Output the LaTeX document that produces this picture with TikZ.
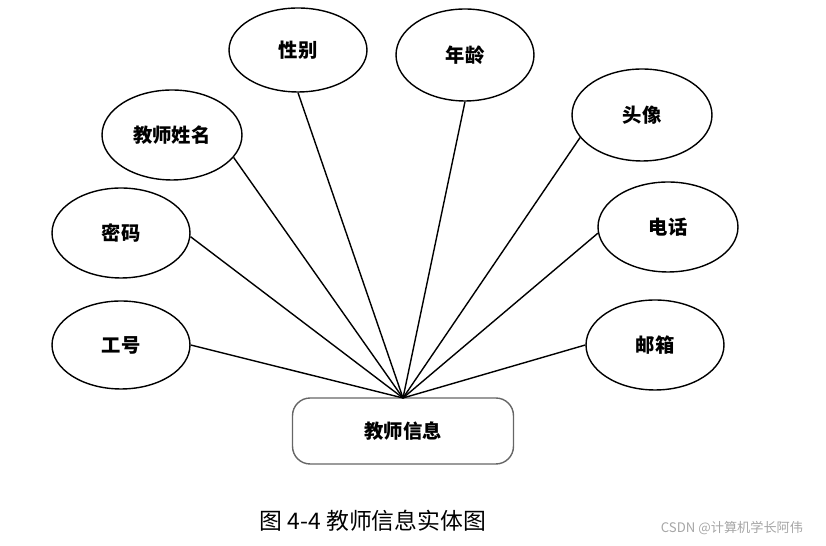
\documentclass[tikz,border=0pt]{standalone}
\usepackage{fontspec}
\setmainfont{Noto Sans CJK SC}
\usetikzlibrary{shapes.geometric}
\begin{document}
\begin{tikzpicture}[x=0.02cm,y=-0.02cm,
  attr/.style={ellipse,draw,line width=0.8pt,inner sep=0pt,font=\fontsize{11}{13}\selectfont\bfseries},
  ent/.style={draw=black!60,line width=0.8pt,rounded corners=10pt,minimum width=4.42cm,minimum height=1.32cm,font=\fontsize{11}{13}\selectfont\bfseries},
  conn/.style={line width=0.8pt}]
\useasboundingbox (0,0) rectangle (826,546);
\node[attr,minimum width=2.76cm,minimum height=1.68cm] (xb) at (298,50) {性别};
\node[attr,minimum width=2.76cm,minimum height=1.84cm] (nl) at (465,55) {年龄};
\node[attr,minimum width=2.80cm,minimum height=1.80cm] (xm) at (172,135) {教师姓名};
\node[attr,minimum width=2.80cm,minimum height=1.84cm] (tx) at (642,115) {头像};
\node[attr,minimum width=2.76cm,minimum height=1.80cm] (mm) at (121,233) {密码};
\node[attr,minimum width=2.80cm,minimum height=1.80cm] (dh) at (668,227) {电话};
\node[attr,minimum width=2.76cm,minimum height=1.76cm] (gh) at (121,345) {工号};
\node[attr,minimum width=2.76cm,minimum height=1.80cm] (yx) at (655,345) {邮箱};
\node[ent] (e) at (403,431) {教师信息};
\coordinate (hub) at (403,398);
\draw[conn] (xb.south) -- (hub);
\draw[conn] (nl.south) -- (hub);
\draw[conn] (xm.-20) -- (hub);
\draw[conn] (mm.-3) -- (hub);
\draw[conn] (gh.east) -- (hub);
\draw[conn] (tx.200) -- (hub);
\draw[conn] (dh.185) -- (hub);
\draw[conn] (yx.west) -- (hub);
\node[font=\fontsize{13}{15}\selectfont] (cap) at (373,521) {图 4-4 教师信息实体图};
\node[font=\fontsize{7.5}{9}\selectfont,text=black!35] (wm) at (732,528) {CSDN @计算机学长阿伟};
\end{tikzpicture}
\end{document}
